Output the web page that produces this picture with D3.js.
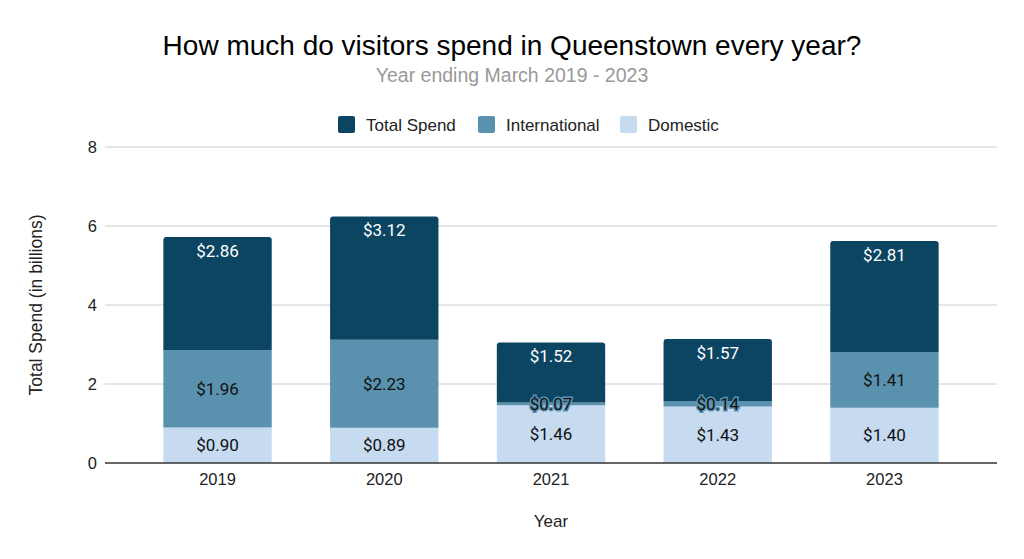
<!DOCTYPE html>
<html>
<head>
<meta charset="utf-8">
<script src="https://cdn.jsdelivr.net/npm/d3@7"></script>
<style>
  body { margin: 0; background: #fff; }
  text { font-family: "Liberation Sans", Arial, sans-serif; }
</style>
</head>
<body>
<script>
// data
var years = ['2019', '2020', '2021', '2022', '2023'];
var domestic = [0.90, 0.89, 1.46, 1.43, 1.40];
var international = [1.96, 2.23, 0.07, 0.14, 1.41];
var totalSpend = [2.86, 3.12, 1.52, 1.57, 2.81];
var seriesNames = ['Total Spend', 'International', 'Domestic'];
var yTicks = [0, 2, 4, 6, 8];

var colors = { 'Total Spend': '#0b4562', 'International': '#5a91ae', 'Domestic': '#c6daf0' };

var width = 1024, height = 559;
var svg = d3.select('body').append('svg').attr('width', width).attr('height', height);

var x = d3.scaleBand().domain(years).range([105, 997]).paddingInner(0.35).paddingOuter(0.35);
var y = d3.scaleLinear().domain([0, 8]).range([463, 147]);

// rows for stacking
var rows = years.map(function (yr, i) {
  return { year: yr, 'Domestic': domestic[i], 'International': international[i], 'Total Spend': totalSpend[i] };
});
var stack = d3.stack().keys(['Domestic', 'International', 'Total Spend']);
var layers = stack(rows);

// title
svg.append('text').attr('x', 512).attr('y', 55).attr('text-anchor', 'middle')
  .style('font-size', '28px').attr('fill', '#000')
  .text('How much do visitors spend in Queenstown every year?');
svg.append('text').attr('x', 512).attr('y', 82).attr('text-anchor', 'middle')
  .style('font-size', '19.5px').attr('fill', '#999')
  .text('Year ending March 2019 - 2023');

// legend
var legendPos = [338, 478, 620];
var legend = svg.selectAll('.legend').data(seriesNames).enter().append('g')
  .attr('transform', function (d, i) { return 'translate(' + legendPos[i] + ',116)'; });
legend.append('rect').attr('width', 17).attr('height', 17).attr('rx', 2)
  .attr('fill', function (d) { return colors[d]; });
legend.append('text').attr('x', 28).attr('y', 15).style('font-size', '17px').attr('fill', '#222')
  .text(function (d) { return d; });

// grid
svg.append('g').selectAll('line').data(yTicks.slice(1)).enter().append('line')
  .attr('x1', 105).attr('x2', 997)
  .attr('y1', function (d) { return y(d); }).attr('y2', function (d) { return y(d); })
  .attr('stroke', '#cccccc').attr('stroke-width', 1);

// y axis
var yAxis = svg.append('g').attr('transform', 'translate(105,0)')
  .call(d3.axisLeft(y).tickValues(yTicks).tickSize(0).tickPadding(8));
yAxis.select('.domain').remove();
yAxis.selectAll('text').style('font-size', '16.5px').attr('fill', '#222')
  .style('font-family', '"Liberation Sans", Arial, sans-serif');

// bars
layers.forEach(function (layer) {
  var key = layer.key;
  var g = svg.append('g');
  g.selectAll('path').data(layer).enter().append('path')
    .attr('fill', colors[key])
    .attr('d', function (d) {
      var x0 = x(d.data.year), w = x.bandwidth();
      var top = y(d[1]), bot = y(d[0]);
      var r = key === 'Total Spend' ? 3 : 0;
      return 'M' + x0 + ',' + bot + 'V' + (top + r) +
        'Q' + x0 + ',' + top + ' ' + (x0 + r) + ',' + top +
        'H' + (x0 + w - r) + 'Q' + (x0 + w) + ',' + top + ' ' + (x0 + w) + ',' + (top + r) +
        'V' + bot + 'Z';
    });
});

// labels
layers.forEach(function (layer) {
  var key = layer.key;
  var g = svg.append('g');
  g.selectAll('text').data(layer).enter().append('text')
    .attr('x', function (d) { return x(d.data.year) + x.bandwidth() / 2; })
    .attr('y', function (d) {
      if (key === 'Total Spend') return y(d[1]) + 14;
      return (y(d[0]) + y(d[1])) / 2;
    })
    .attr('text-anchor', 'middle').attr('dy', '0.35em')
    .style('font-family', 'Roboto, sans-serif').style('font-size', '17px')
    .attr('fill', key === 'Total Spend' ? '#fff' : '#111')
    .attr('stroke', function (d) {
      return (key === 'International' && d[1] - d[0] < 0.3) ? colors['International'] : 'none';
    })
    .attr('stroke-width', 3).attr('paint-order', 'stroke')
    .text(function (d) { return '$' + (d[1] - d[0]).toFixed(2); });
});

// baseline
svg.append('line').attr('x1', 105).attr('x2', 997).attr('y1', y(0)).attr('y2', y(0))
  .attr('stroke', '#333').attr('stroke-width', 1.5);

// x axis
var xAxis = svg.append('g').attr('transform', 'translate(0,' + y(0) + ')')
  .call(d3.axisBottom(x).tickSize(0).tickPadding(10));
xAxis.select('.domain').remove();
xAxis.selectAll('text').style('font-size', '16.5px').attr('fill', '#222')
  .style('font-family', '"Liberation Sans", Arial, sans-serif');

// axis titles
svg.append('text').attr('x', 551).attr('y', 527).attr('text-anchor', 'middle')
  .style('font-size', '17px').attr('fill', '#222').text('Year');
svg.append('text').attr('transform', 'translate(42,305) rotate(-90)').attr('text-anchor', 'middle')
  .style('font-size', '17.5px').attr('fill', '#222').text('Total Spend (in billions)');
</script>
</body>
</html>
